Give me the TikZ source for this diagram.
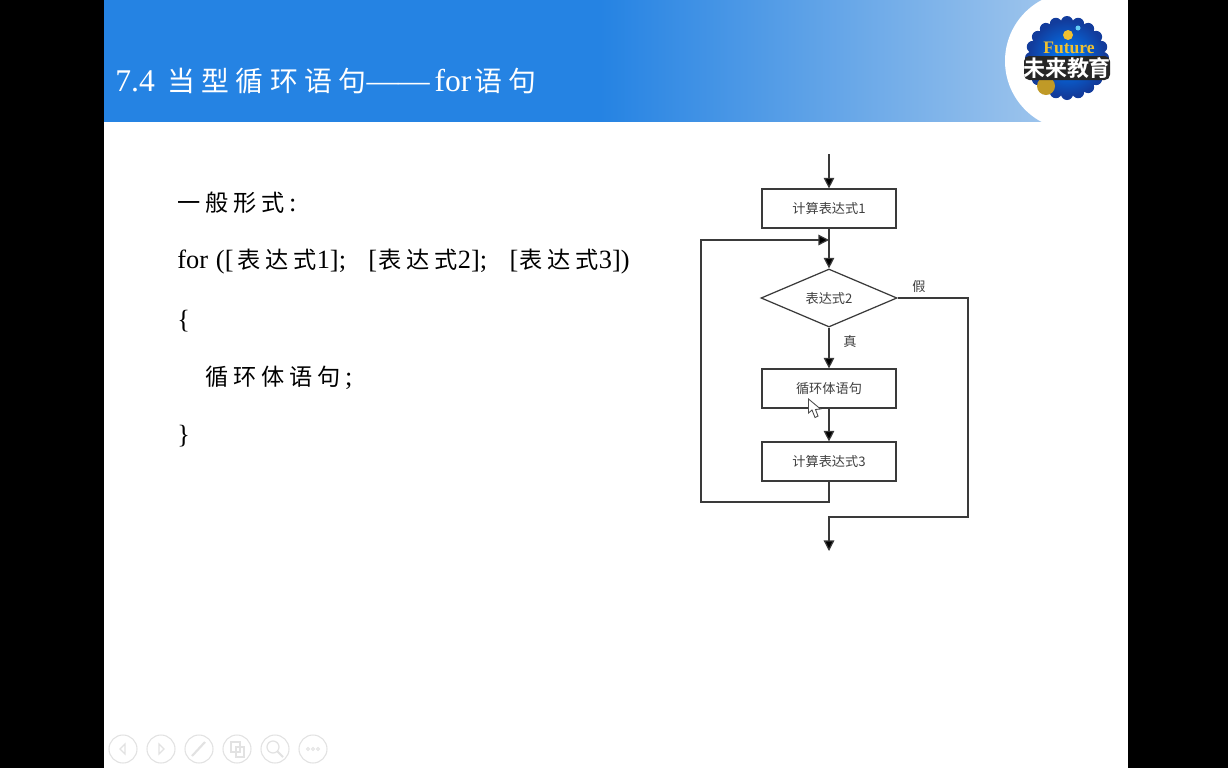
\documentclass[tikz,border=0pt]{standalone}
\usepackage{fontspec}
\setmainfont{Liberation Serif}
\newfontfamily\cjk[LetterSpace=21,Scale=0.88]{Noto Sans CJK SC}
\newfontfamily\cjktitle[LetterSpace=23,Scale=0.88]{Noto Sans CJK SC}
\newfontfamily\cjkplain{Noto Sans CJK SC}
\newfontfamily\cjkbold{Noto Sans CJK SC Bold}
\usetikzlibrary{arrows.meta, shapes.geometric}

\definecolor{headblue}{HTML}{2583E3}
\definecolor{headpale}{HTML}{9DC4EC}
\definecolor{flowgrey}{HTML}{3A3A3A}
\definecolor{navgrey}{HTML}{E2E2E2}
\definecolor{logoblue}{HTML}{123C9C}
\definecolor{logogold}{HTML}{F0C030}

\tikzset{
  flowbox/.style={draw=flowgrey, line width=0.7pt, minimum width=2.68cm, minimum height=0.78cm, inner sep=0pt, text=black!75, font=\fontsize{7.5}{9}\selectfont\cjkplain},
  flowcond/.style={draw=flowgrey, line width=0.7pt, diamond, aspect=2.34, minimum width=2.72cm, minimum height=1.16cm, inner sep=0pt, text=black!75, font=\fontsize{7.5}{9}\selectfont\cjkplain},
  flowline/.style={draw=flowgrey, line width=0.7pt},
  flowarrow/.style={flowline, -{Triangle[length=6pt, width=6pt, fill=black]}},
  flowlabel/.style={text=black!75, inner sep=0pt, font=\fontsize{7.5}{9}\selectfont\cjkplain},
  bodytext/.style={anchor=base west, inner sep=0pt, text=black, font=\fontsize{15}{18}\selectfont},
  titletext/.style={anchor=base west, inner sep=0pt, text=white, font=\fontsize{18}{22}\selectfont},
  navring/.style={draw=navgrey, line width=0.6pt, fill=white}
}

\begin{document}
\begin{tikzpicture}[x=0.02cm, y=-0.02cm]
\useasboundingbox (0,0) rectangle (1228,768);
% Draw slide and header
\fill[white] (0,0) rectangle (1228,768);
\fill[headblue] (104,0) rectangle (600,122);
\shade[left color=headblue, right color=headpale] (600,0) rectangle (1045,122);
\fill[white] (104,122) rectangle (1128,130);
\begin{scope}
\clip (104,0) rectangle (1128,122);
\fill[white] (1074,61) circle [radius=69];
\fill[white] (1074,0) rectangle (1128,122);
\end{scope}
% Draw black side bars
\fill[black] (0,0) rectangle (104,768);
\fill[black] (1128,0) rectangle (1228,768);
% Draw logo
\foreach \a in {0,18,...,342} {
  \fill[logoblue] (1067,58) ++(\a:36) circle [radius=6];
}
\shade[inner color=blue!50!cyan, outer color=logoblue] (1067,58) circle [radius=38];
\fill[logogold] (1068,35) circle [radius=5];
\fill[cyan!60!white] (1078,28) circle [radius=2.5];
\fill[logogold!80!black] (1046,86) circle [radius=9];
\node[fill=black!85, rounded corners=3pt, minimum width=1.72cm, minimum height=0.48cm, inner sep=0pt] (logoband) at (1067,68) {};
\node[inner sep=0pt, text=white, font=\fontsize{12.5}{14}\selectfont\cjkbold] (logoname) at (1067,68) {未来教育};
\node[inner sep=0pt, text=logogold, font=\fontsize{10}{12}\selectfont\bfseries] (logofuture) at (1069,48) {Future};
% Title
\node[titletext] (title) at (115,91) {7.4\hspace{0.4em}{\cjktitle 当型循环语句}——\hspace{0.15em}for\hspace{0.1em}{\cjktitle 语句}};
% General form
\node[bodytext] (formhead) at (177,211) {{\cjk 一般形式}\,:};
\node[bodytext] (formfor) at (177,268) {for\hspace{0.3em}([\hspace{0.15em}{\cjk 表达式}1];\hspace{0.85em}[\hspace{0.05em}{\cjk 表达式}2];\hspace{0.85em}[\hspace{0.05em}{\cjk 表达式}3])};
\node[bodytext] (formopen) at (177,328) {\{};
\node[bodytext] (formbody) at (205,385) {{\cjk 循环体语句}\,;};
\node[bodytext] (formclose) at (177,443) {\}};
% Flow chart nodes
\coordinate (entry) at (829,154);
\node[flowbox] (calcinit) at (829,208.5) {计算表达式1};
\node[flowcond] (cond) at (829,298) {表达式2};
\node[flowbox] (loopbody) at (829,388.5) {循环体语句};
\node[flowbox] (calcstep) at (829,461.5) {计算表达式3};
\node[flowlabel] (falselabel) at (919,287) {假};
\node[flowlabel] (truelabel) at (850,341) {真};
% Flow chart corners
\coordinate (backin) at (829,240);
\coordinate (backtop) at (701,240);
\coordinate (backlow) at (701,502);
\coordinate (backstart) at (829,502);
\coordinate (falsetop) at (968,298);
\coordinate (falselow) at (968,517);
\coordinate (exitbend) at (829,517);
\coordinate (exit) at (829,551);
% Draw connectors
\draw[flowarrow] (entry) -- (calcinit);
\draw[flowarrow] (calcinit) -- (cond);
\draw[flowarrow] (cond) -- (loopbody);
\draw[flowarrow] (loopbody) -- (calcstep);
\draw[flowarrow] (calcstep) -- (backstart) -- (backlow) -- (backtop) -- (backin);
\draw[flowarrow] (cond) -- (falsetop) -- (falselow) -- (exitbend) -- (exit);
% Mouse cursor
\draw[fill=white, draw=black!70, line width=0.5pt] (808.5,399) -- (808.5,413) -- (812,410) -- (815,417.5) -- (818,416) -- (815.5,409.5) -- (820.5,409) -- cycle;
% Navigation buttons
\foreach \x in {123,161,199,237,275,313} {
  \draw[navring] (\x,749) circle [radius=14];
}
\draw[navgrey, line width=0.7pt] (125,744) -- (120,749) -- (125,754) -- cycle;
\draw[navgrey, line width=0.7pt] (159,744) -- (164,749) -- (159,754) -- cycle;
\draw[navgrey, line width=1.2pt] (192,756) -- (205,742);
\draw[navgrey, line width=0.7pt] (231,742) rectangle (240,752);
\draw[navgrey, line width=0.7pt] (236,747) rectangle (244,757);
\draw[navgrey, line width=0.7pt] (273,747) circle [radius=6];
\draw[navgrey, line width=1.2pt] (277.5,751.5) -- (283,757);
\foreach \x in {308,313,318} {
  \draw[navgrey, line width=0.5pt] (\x,749) circle [radius=1.5];
}
\end{tikzpicture}
\end{document}
